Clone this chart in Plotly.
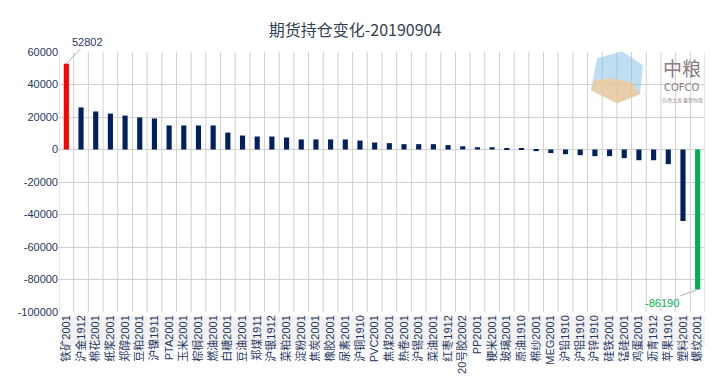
import plotly.graph_objects as go

categories = ["铁矿2001", "沪金1912", "棉花2001", "纸浆2001", "郑醇2001", "豆粕2001", "沪镍1911",
              "PTA2001", "玉米2001", "棕榈2001", "燃油2001", "白糖2001", "豆油2001", "郑煤1911",
              "沪银1912", "菜粕2001", "淀粉2001", "焦炭2001", "橡胶2001", "尿素2001", "沪铜1910",
              "PVC2001", "焦煤2001", "热卷2001", "沪锡2001", "菜油2001", "红枣1912", "20号胶2002",
              "PP2001", "粳米2001", "玻璃2001", "原油1910", "棉纱2001", "MEG2001", "沪铅1910",
              "沪铝1910", "沪锌1910", "硅铁2001", "锰硅2001", "鸡蛋2001", "沥青1912", "苹果1910",
              "塑料2001", "螺纹2001"]
values = [52802, 25900, 23400, 22100, 20900, 19700, 19100,
          14800, 14800, 14800, 14800, 10400, 8600, 8000,
          8000, 7400, 6200, 6200, 6200, 6200, 5500,
          4300, 3900, 3300, 3300, 3300, 2700, 2000,
          1400, 1400, 800, 800, -1000, -2200, -2900,
          -3500, -4100, -4100, -5300, -6600, -6600, -9000,
          -44000, -86190]
y_ticks = [60000, 40000, 20000, 0, -20000, -40000, -60000, -80000, -100000]

NAVY = "#002060"
colors = [NAVY] * len(values)
colors[0] = "#FF0000"
colors[-1] = "#00B050"

fig = go.Figure(go.Bar(x=categories, y=values, marker=dict(color=colors, line=dict(width=0)),
                       hoverinfo="x+y"))

# plot area in pixels
L, R, T, B = 59, 705, 51.7, 311.7
W, H = 719, 383
GRID = "#d0d0d0"

def px(x):
    return (x - L) / (R - L)

def py(y):
    return (B - y) / (B - T)

shapes = []
# light gray band behind category labels (as in reference)
shapes.append(dict(type="rect", xref="paper", yref="paper", x0=px(60), x1=px(705), y0=py(316), y1=py(346),
                   fillcolor="#f2f2f2", line=dict(width=0), layer="below"))
# vertical gridlines at category boundaries
for i in range(len(categories) + 1):
    shapes.append(dict(type="line", xref="x", yref="y", x0=i - 0.5, x1=i - 0.5,
                       y0=y_ticks[-1], y1=y_ticks[0],
                       line=dict(color=GRID, width=1), layer="below"))
# logo polygon (approximation)
hexpts = [(597, 58), (622, 51), (643, 65), (640, 94), (617, 103), (591, 90)]
path = "M " + " L ".join(f"{px(a):.4f},{py(b):.4f}" for a, b in hexpts) + " Z"
shapes.append(dict(type="path", xref="paper", yref="paper", path=path,
                   fillcolor="rgba(130,190,230,0.5)", line=dict(width=0), layer="above"))
lowpts = [(591, 90), (594, 80), (612, 78), (632, 82), (640, 94), (617, 103)]
path2 = "M " + " L ".join(f"{px(a):.4f},{py(b):.4f}" for a, b in lowpts) + " Z"
shapes.append(dict(type="path", xref="paper", yref="paper", path=path2,
                   fillcolor="rgba(250,200,140,0.7)", line=dict(width=0), layer="above"))

annotations = [
    dict(x=categories[0], y=values[0], text=f"{values[0]}", showarrow=True, arrowhead=0,
         arrowwidth=1, arrowcolor="#b0b0b0", ax=21, ay=-22,
         font=dict(size=11, color="#1f3864", family="Liberation Sans")),
    dict(x=categories[-1], y=values[-1], text=f"{values[-1]}", showarrow=True, arrowhead=0,
         arrowwidth=1, arrowcolor="#b0b0b0", ax=-36, ay=13,
         font=dict(size=11, color="#00B050", family="Liberation Sans")),
    dict(xref="paper", yref="paper", x=px(682), y=py(67), text="中粮", showarrow=False,
         xanchor="center", yanchor="middle",
         font=dict(size=19, color="#8c7b7b", family="Noto Sans CJK SC")),
    dict(xref="paper", yref="paper", x=px(682), y=py(87), text="COFCO", showarrow=False,
         xanchor="center", yanchor="middle",
         font=dict(size=10, color="#8c7b7b", family="DejaVu Sans")),
    dict(xref="paper", yref="paper", x=px(682), y=py(100), text="自然之源 重塑你我", showarrow=False,
         xanchor="center", yanchor="middle",
         font=dict(size=5, color="#a09090", family="Noto Sans CJK SC")),
]

fig.update_layout(
    width=W, height=H,
    margin=dict(l=L, r=W - R, t=T, b=H - B, autoexpand=False),
    paper_bgcolor="white", plot_bgcolor="white",
    title=dict(text="期货持仓变化-20190904", x=355 / W, xanchor="center", y=1 - 30 / H, yanchor="middle",
               font=dict(size=16, color="#333f50", family="Noto Sans CJK SC"), automargin=False),
    showlegend=False,
    bargap=0.65,
    shapes=shapes,
    annotations=annotations,
    xaxis=dict(type="category", tickangle=-90, showgrid=False, ticks="", showline=False,
               automargin=False,
               tickfont=dict(size=11, color="#1f3864", family="Liberation Sans, Noto Sans CJK SC"),
               range=[-0.5, len(categories) - 0.5]),
    yaxis=dict(range=[-100000, 60000], tickvals=y_ticks, ticktext=[str(v) for v in y_ticks],
               showgrid=True, gridcolor=GRID, gridwidth=1, zeroline=True, zerolinecolor=GRID,
               zerolinewidth=1, ticks="", showline=False, automargin=False,
               tickfont=dict(size=11, color="#1f3864", family="Liberation Sans")),
)

fig.write_html("out.html", config={"displayModeBar": False},
               post_script="document.body.style.margin='0px';")
